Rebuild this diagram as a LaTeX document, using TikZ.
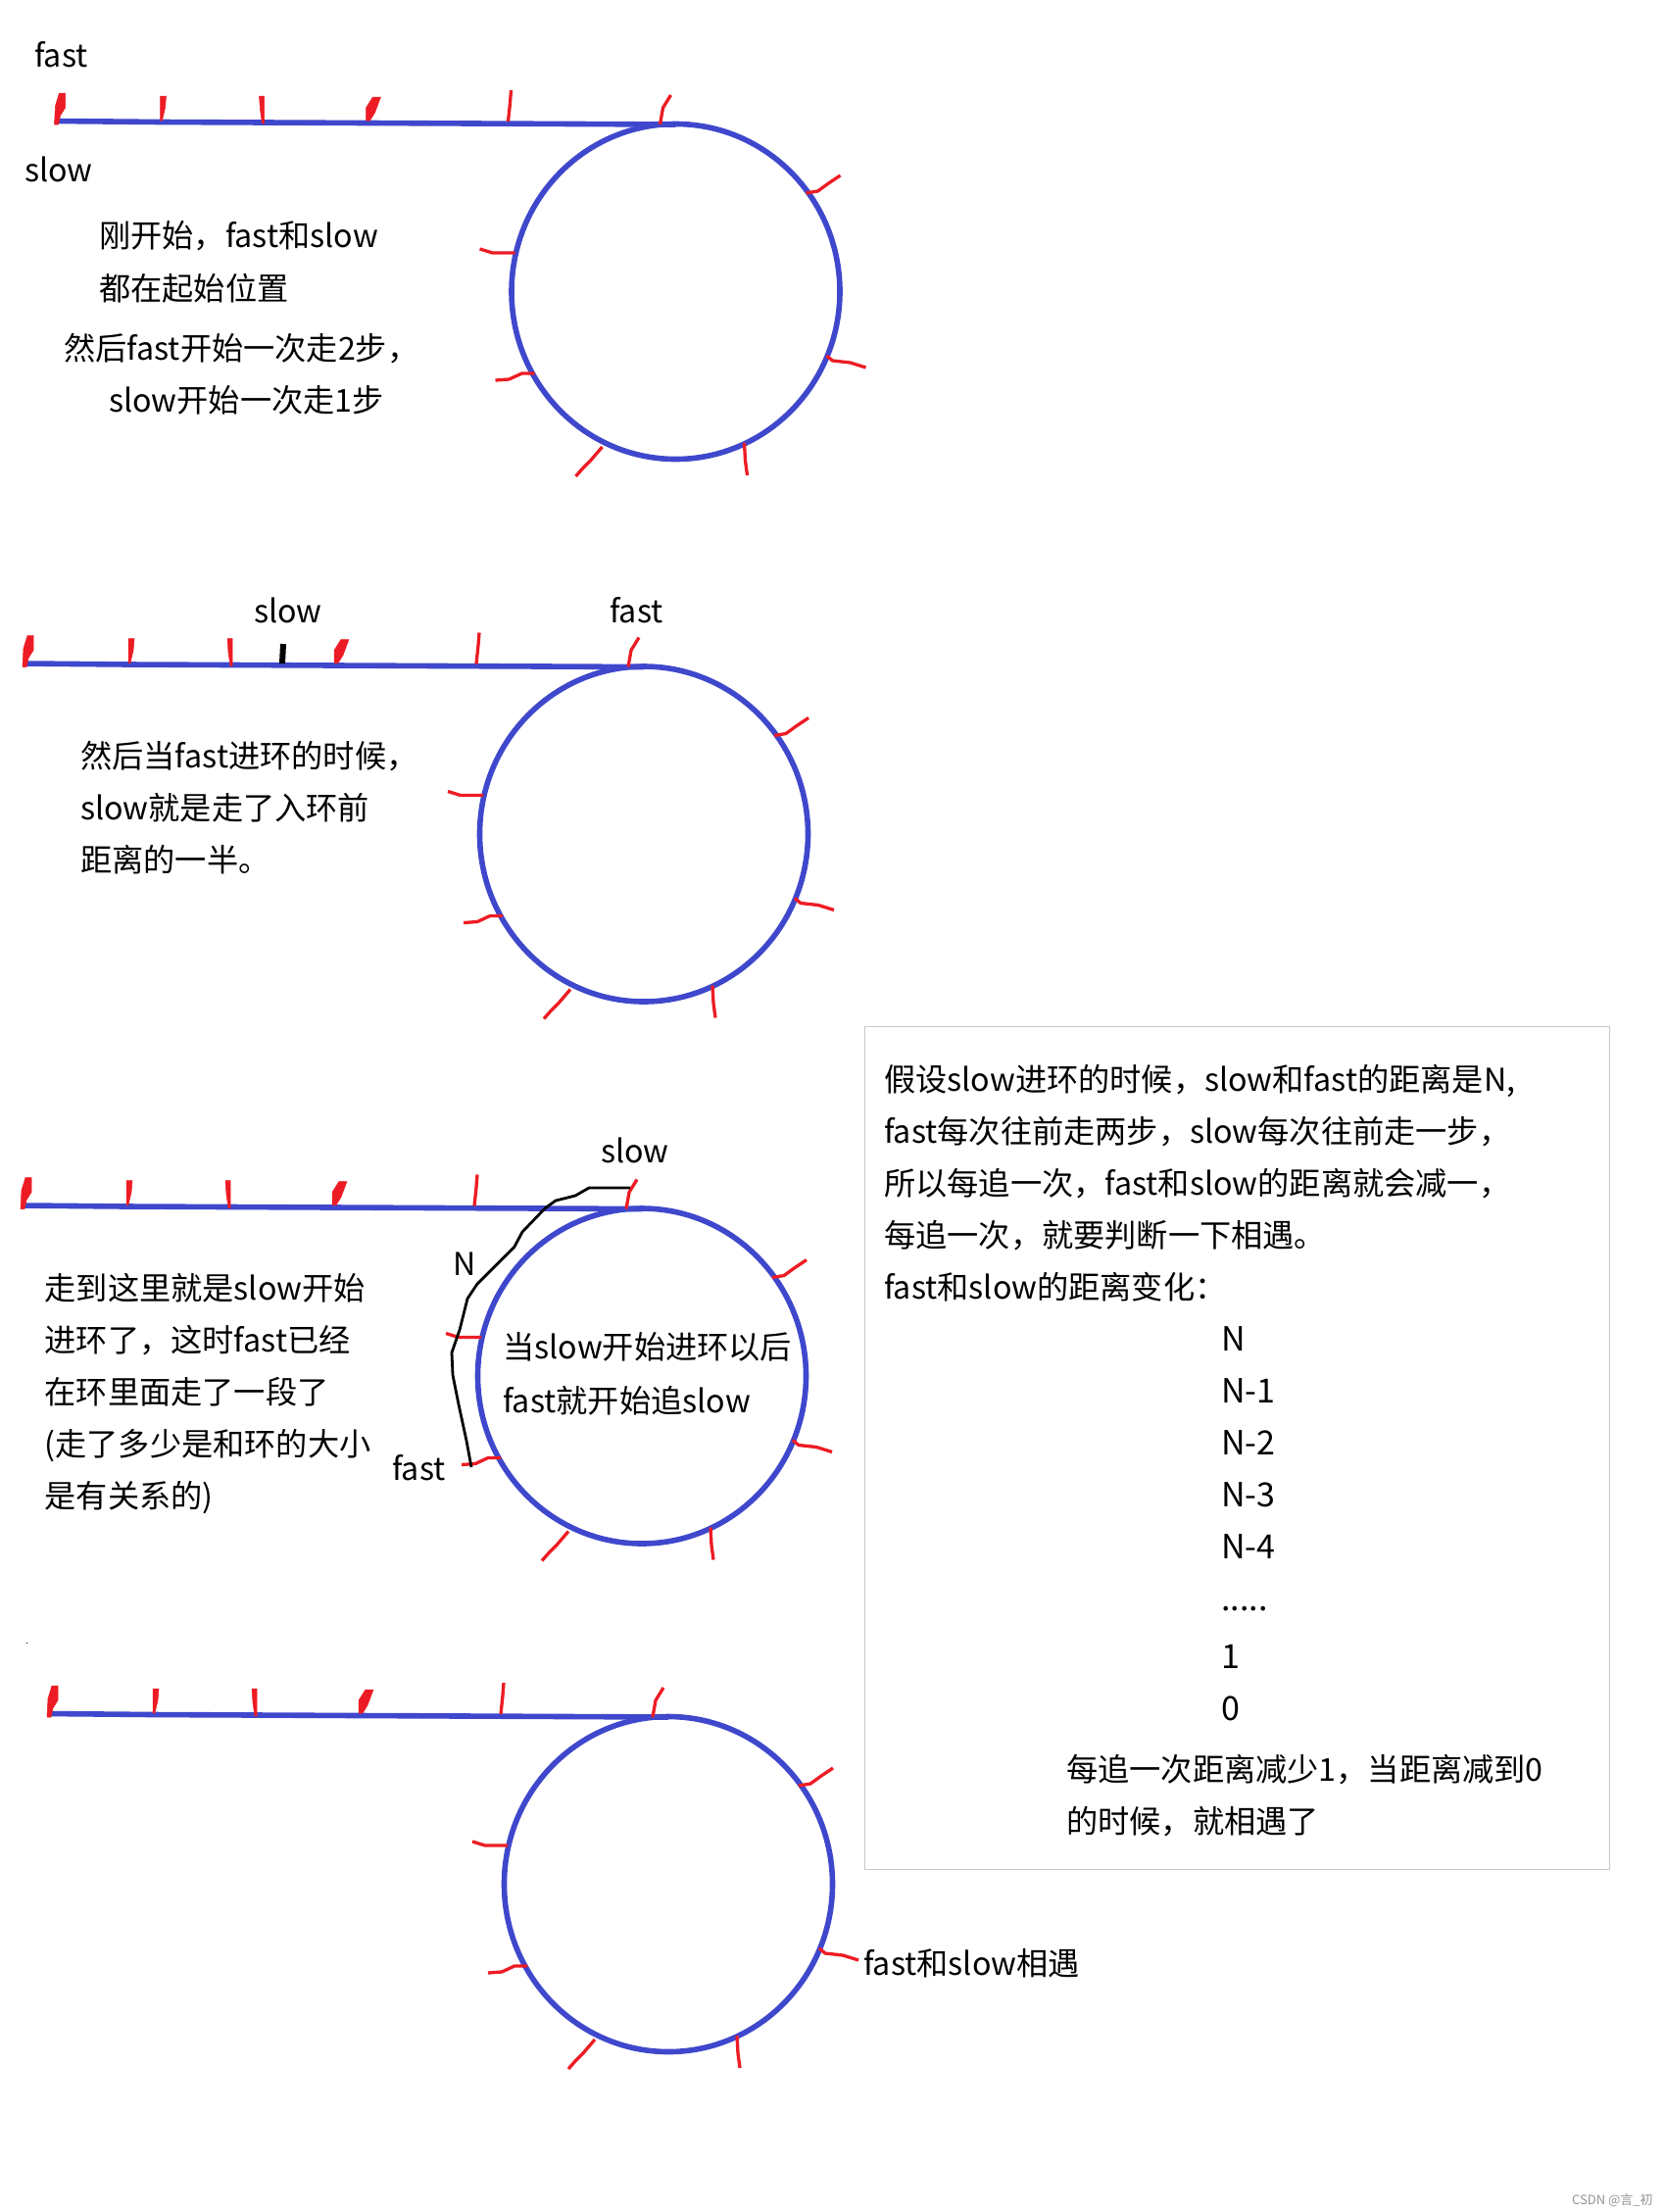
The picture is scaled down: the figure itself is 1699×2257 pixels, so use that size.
\documentclass[tikz,border=0pt]{standalone}
\usepackage{fontspec}
\setmainfont{Noto Sans CJK SC}
\definecolor{ringblue}{RGB}{63,72,204}
\definecolor{tickred}{RGB}{237,28,36}
\definecolor{boxgrey}{RGB}{200,200,200}
\tikzset{
  ringline/.style={draw=ringblue,line width=5.6pt},
  tickline/.style={draw=tickred,line width=3.3pt},
  blobshape/.style={fill=tickred,draw=tickred,line width=0.5pt},
  handline/.style={draw=black,line width=2.8pt,line join=round},
  txt/.style={inner sep=0pt,anchor=base west,font=\fontsize{32.2}{40}\selectfont,text=black},
  numtxt/.style={txt,font=\fontsize{34}{40}\selectfont},
}
\newcommand{\lbl}[4]{\node[txt] (#1) at (#2,#3) {#4};}
\newcommand{\numlbl}[4]{\node[numtxt] (#1) at (#2,#3) {#4};}
\newcommand{\ringtrack}[2]{%
\begin{scope}[shift={(#1,#2)}]
  \draw[ringline] (60,123.5) -- (166,124.5) -- (378,125.5) -- (590,126.5) -- (692,127);
  \draw[ringline] (692,297.5) ellipse [x radius=167.5,y radius=171];
  \fill[blobshape] (58,127) -- (59,108) -- (63,95) -- (69,95) -- (69,110) -- (64,118) -- (62,127) -- cycle;
  \fill[blobshape] (166,98) -- (172,98) -- (171,110) -- (168,123) -- (166,123) -- cycle;
  \fill[blobshape] (267,98) -- (272,98) -- (272,126) -- (270,126) -- (268,112) -- cycle;
  \fill[blobshape] (383,99) -- (391,99) -- (385,115) -- (380,123) -- (376,123) -- (376,110) -- cycle;
  \draw[tickline] (521,124) -- (523,105) -- (524,92);
  \draw[tickline] (676,127) -- (679,110) -- (687,97);
  \draw[tickline] (825,197) -- (837,195) -- (848,187) -- (860,179);
  \draw[tickline] (846,363) -- (852,368) -- (870,370) -- (886,375);
  \draw[tickline] (762,452) -- (763,470) -- (765,485);
  \draw[tickline] (617,456) -- (605,470) -- (597,478) -- (590,486);
  \draw[tickline] (548,381) -- (535,381) -- (522,387) -- (508,388);
  \draw[tickline] (528,258) -- (505,258) -- (492,254);
\end{scope}}
\begin{document}
\begin{tikzpicture}[x=1pt,y=-1pt]
\useasboundingbox (0,0) rectangle (1699,2257);
\fill[white] (0,0) rectangle (1699,2257);

% four rings
\ringtrack{-2.5}{0}
\fill[white] (851.5,238) rectangle (855,246);
\ringtrack{-35}{553.5}
\ringtrack{-37}{1106.5}
\ringtrack{-10}{1625}

% diagram 1
\lbl{a1}{35}{68}{fast}
\lbl{a2}{25}{185.5}{slow}
\lbl{a3}{101}{252}{刚开始，fast和slow}
\lbl{a4}{101}{306.5}{都在起始位置}
\lbl{a5}{65}{367.5}{然后fast开始一次走2步，}
\lbl{a6}{111}{420.5}{slow开始一次走1步}

% diagram 2
\draw[draw=black,line width=6pt] (289,657) -- (288,677);
\lbl{b1}{259}{635}{slow}
\lbl{b2}{622}{635}{fast}
\lbl{b3}{82}{783}{然后当fast进环的时候，}
\lbl{b4}{82}{836}{slow就是走了入环前}
\lbl{b5}{82}{889}{距离的一半。}

% diagram 3
\draw[handline] (643,1212) -- (601,1212) -- (587,1220) -- (567,1225) -- (556,1233) -- (533,1257) -- (525,1272) -- (510,1287) -- (487,1310) -- (477,1325) -- (469,1357) -- (461,1380) -- (462,1403) -- (468,1433) -- (476,1470) -- (481,1497);
\lbl{c1}{613}{1186}{slow}
\lbl{c2}{462}{1301}{N}
\lbl{c3}{400}{1510}{fast}
\lbl{c4}{45.5}{1326}{走到这里就是slow开始}
\lbl{c5}{45.5}{1379}{进环了，这时fast已经}
\lbl{c6}{45.5}{1432}{在环里面走了一段了}
\lbl{c7}{45.5}{1485}{(走了多少是和环的大小}
\lbl{c8}{45.5}{1538}{是有关系的)}
\lbl{c9}{513}{1386}{当slow开始进环以后}
\lbl{c10}{513}{1441}{fast就开始追slow}

% stray dot
\fill[black] (26.5,1675.5) rectangle (28,1677);

% diagram 4
\lbl{d1}{881}{2015}{fast和slow相遇}

% explanation box
\node[draw=boxgrey,line width=1.5pt,inner sep=0pt,fill=none,minimum width=760pt,minimum height=860pt,anchor=north west] (box) at (881.5,1046.5) {};
\lbl{e1}{902}{1113}{假设slow进环的时候，slow和fast的距离是N,}
\lbl{e2}{902}{1166}{fast每次往前走两步，slow每次往前走一步，}
\lbl{e3}{902}{1219}{所以每追一次，fast和slow的距离就会减一，}
\lbl{e4}{902}{1272}{每追一次，就要判断一下相遇。}
\lbl{e5}{902}{1325}{fast和slow的距离变化：}
\numlbl{e6}{1246}{1378}{N}
\numlbl{e7}{1246}{1431}{N-1}
\numlbl{e8}{1246}{1484}{N-2}
\numlbl{e9}{1246}{1537}{N-3}
\numlbl{e10}{1246}{1590}{N-4}
\numlbl{e11}{1246}{1643}{.....}
\numlbl{e12}{1246}{1702}{1}
\numlbl{e13}{1246}{1755}{0}
\lbl{e14}{1088}{1817}{每追一次距离减少1，当距离减到0}
\lbl{e15}{1088}{1870}{的时候，就相遇了}

% watermark
\node[inner sep=0pt,anchor=base west,font=\fontsize{13}{15}\selectfont,text=black!42] (wm) at (1604,2249) {CSDN @言\_初};
\end{tikzpicture}
\end{document}
